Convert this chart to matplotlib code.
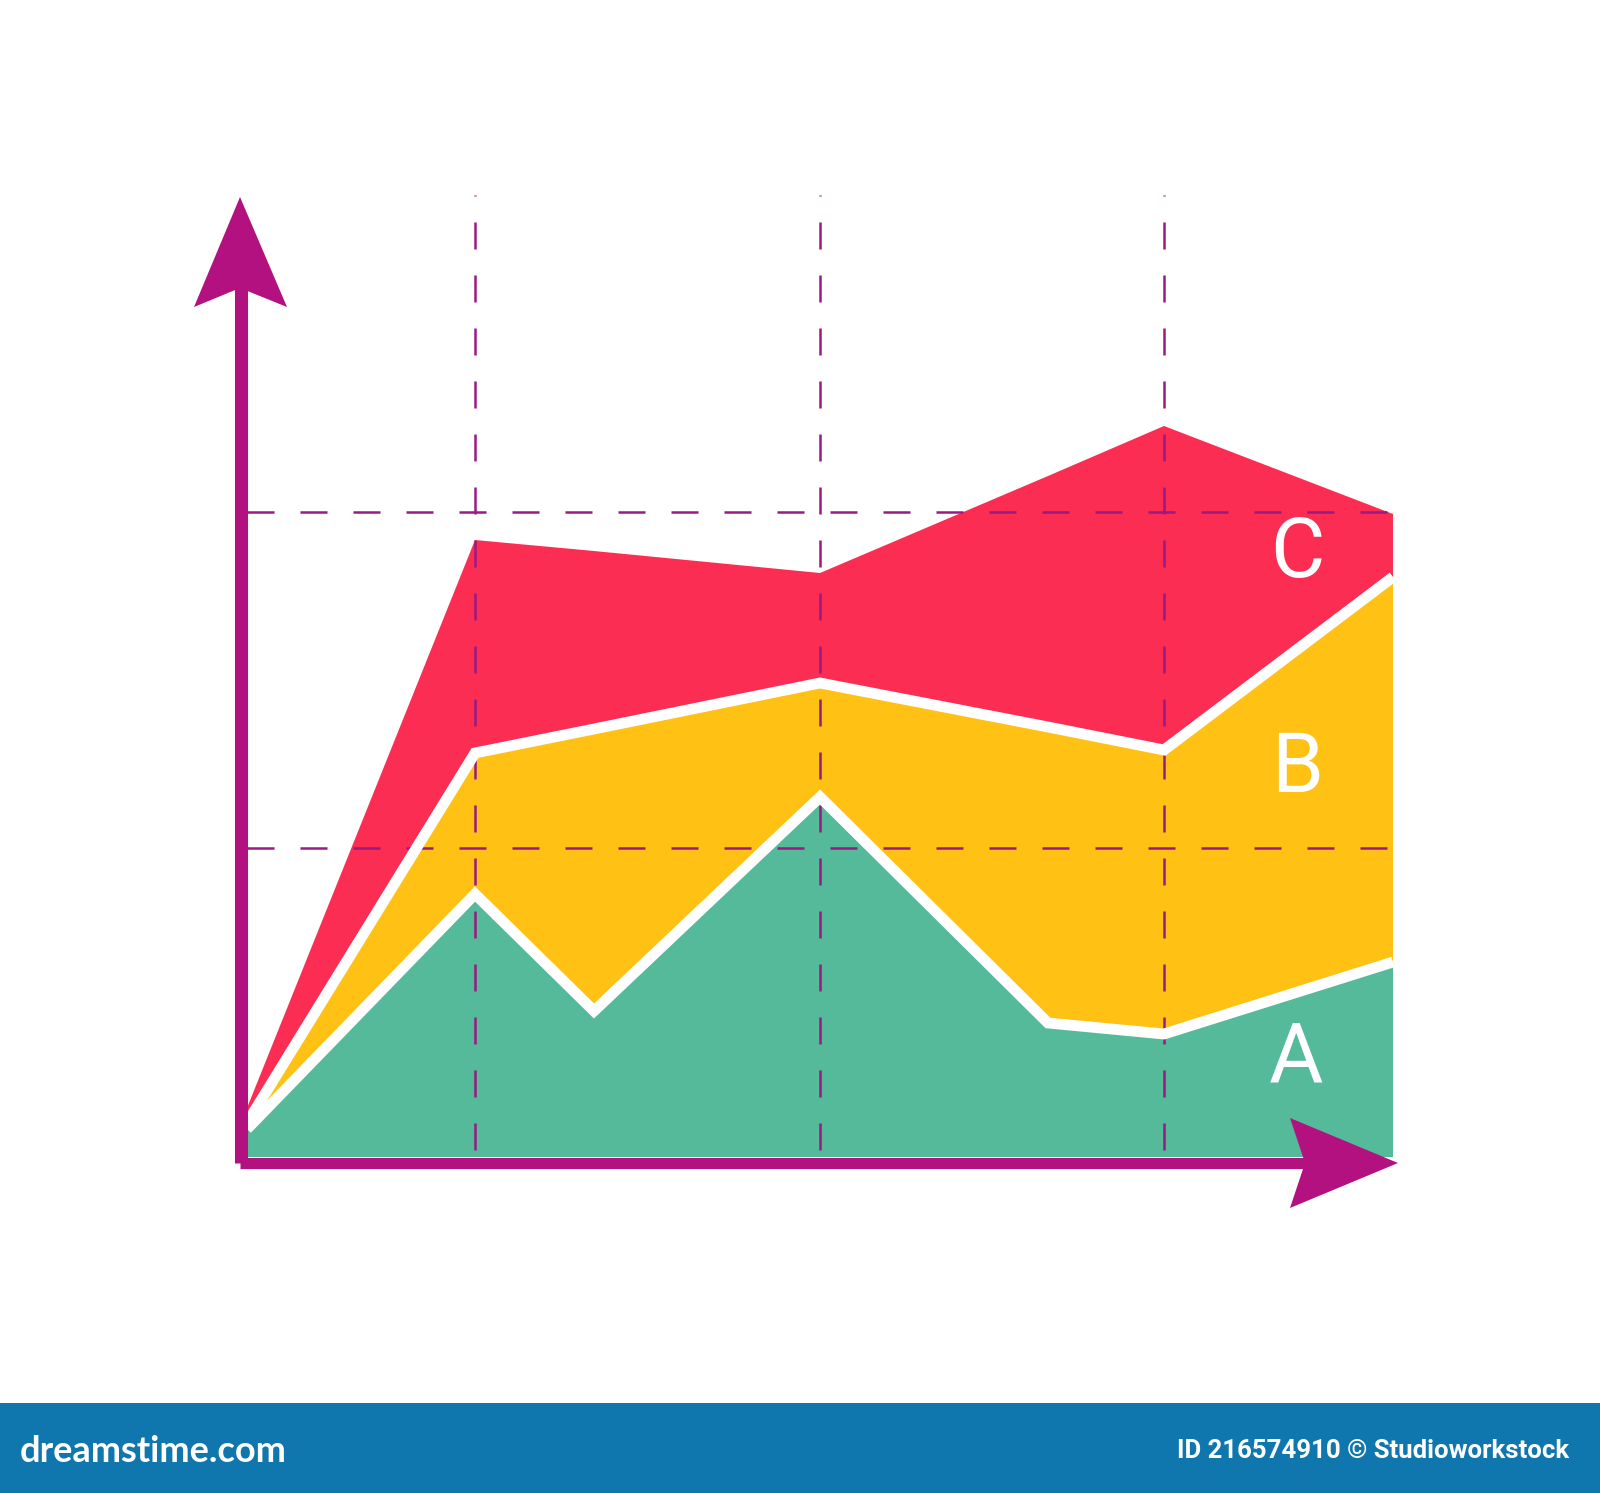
import numpy as np
import matplotlib
matplotlib.use('Agg')
import matplotlib.pyplot as plt
from matplotlib.patches import Rectangle

#Data
#--------------------------------
# x positions of the break points (chart units, origin at the y axis)
x = np.array([0, 228, 347, 573, 801, 917, 1146])
# stacked layer thicknesses
series_A = np.array([28, 263, 146, 360, 134, 123, 195])
series_B = np.array([6, 141, 282, 114, 296, 284, 385])
series_C = np.array([15, 213, 178, 110, 251, 324, 63])
labels = ['A', 'B', 'C']
label_pos = [(1049, 98), (1050, 388), (1050, 603)]
grid_x = x[[1, 3, 5]]
grid_y = [309, 645]
#--------------------------------

#Colors
col_A = '#55BA9A'; col_B = '#FFC114'; col_C = '#FC2D53'
col_axis = '#B3117F'; col_dash = '#9A1A82'; col_banner = '#1077AE'

#Figure settings
W, H = 1600, 1493
fig = plt.figure(figsize=(W/100, H/100), dpi=100)
fig.patch.set_facecolor('white')
ax = fig.add_axes([0, 0, 1, 1])
ax.set_xlim(-247, W-247)
ax.set_ylim(-(H-1157), 1157)
ax.axis('off')

#Areas
ax.stackplot(x, series_A, series_B, series_C, colors=[col_A, col_B, col_C],
             linewidth=0, zorder=1)

#Dashed grid
ax.vlines(grid_x, 7, 962, colors=col_dash, linewidth=1.8,
          linestyles=(0, (10.8, 10.4)), zorder=2)
ax.hlines(grid_y, 0, 1140, colors=col_dash, linewidth=1.8,
          linestyles=(0, (10.8, 10.4)), zorder=2)

#White separators
top_A = series_A
top_B = series_A + series_B
for top in [top_A, top_B]:
    ax.plot(x, top, color='white', linewidth=7.8, solid_joinstyle='miter',
            solid_capstyle='butt', zorder=3)

#Axes with arrows
ax.plot([-6.5, -6.5], [-6, 870], color=col_axis, linewidth=9.4,
        solid_capstyle='butt', zorder=4)
ax.fill([-7, -53, -7, 40], [960, 850, 869, 850], color=col_axis, lw=0, zorder=4)
ax.plot([-7, 1060], [-5.5, -5.5], color=col_axis, linewidth=8.0,
        solid_capstyle='butt', zorder=4)
ax.fill([1151, 1043, 1058, 1043], [-6, 39, -6, -51], color=col_axis, lw=0, zorder=4)

#Labels
for lab, (lx, ly) in zip(labels, label_pos):
    ax.text(lx, ly, lab, color='white', fontsize=60, family='Roboto',
            ha='center', va='center', zorder=5)

#Banner
fig.patches.append(Rectangle((0, 0), 1, 90/H, transform=fig.transFigure,
                             facecolor=col_banner, edgecolor='none', zorder=0))
fig.text(20/W, (H-1452)/H, 'dreamstime.com', color='white', fontsize=26,
         family='Lato', fontweight='bold', ha='left', va='center')
fig.text(1569/W, (H-1451)/H, 'ID 216574910 \u00a9 Studioworkstock', color='white',
         fontsize=18.5, family='Roboto', fontweight='bold', ha='right', va='center')

fig.savefig('out.png', dpi=100)
